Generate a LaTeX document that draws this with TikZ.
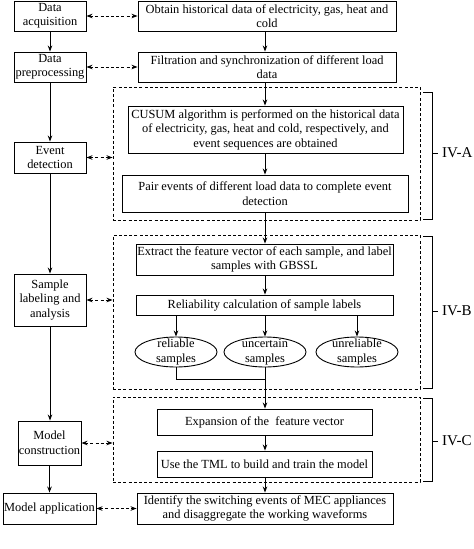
\documentclass[tikz,border=0pt]{standalone}
\usepackage{fontspec}
\setmainfont{Liberation Serif}
\usetikzlibrary{arrows.meta,shapes.geometric}
\tikzset{
  box/.style={draw,line width=0.9pt,inner sep=0pt,align=center,font=\fontsize{12.4}{14.5}\selectfont},
  frm/.style={draw,line width=0.9pt,dash pattern=on 3pt off 2.2pt,inner sep=0pt},
  elp/.style={draw,line width=0.9pt,ellipse,inner sep=0pt,minimum width=82pt,minimum height=30pt},
  txt/.style={inner sep=0pt,align=center,font=\fontsize{12.4}{14.5}\selectfont},
  arr/.style={line width=0.9pt,-{Stealth[length=6pt,width=4.5pt]}},
  darr/.style={line width=0.9pt,dash pattern=on 3pt off 2.2pt,{Stealth[length=6pt,width=4.5pt]}-{Stealth[length=6pt,width=4.5pt]}},
  brk/.style={line width=0.9pt},
  lbl/.style={inner sep=0pt,anchor=west,font=\fontsize{15}{17}\selectfont}
}
\begin{document}
\begin{tikzpicture}[x=1pt,y=-1pt]
\useasboundingbox (0,0) rectangle (474,549);
% left column
\node[box,minimum width=72pt,minimum height=30pt] (da) at (50,16) {Data\\acquisition};
\node[box,minimum width=72pt,minimum height=30pt] (dp) at (50,67) {Data\\preprocessing};
\node[box,minimum width=72pt,minimum height=31pt] (ed) at (50,157.5) {Event\\detection};
\node[box,minimum width=72pt,minimum height=52pt] (sl) at (50,300) {Sample\\labeling and\\analysis};
\node[box,minimum width=63pt,minimum height=44pt] (mc) at (49.5,443) {Model\\construction};
\node[box,minimum width=93pt,minimum height=31pt] (ma) at (49.5,508.5) {Model application};
% frames
\node[frm,minimum width=307pt,minimum height=133pt] (fA) at (266.5,153.5) {};
\node[frm,minimum width=307pt,minimum height=154pt] (fB) at (266.5,312) {};
\node[frm,minimum width=307pt,minimum height=85pt] (fC) at (266.5,439.5) {};
% right column
\coordinate (sp) at (265,0);
\node[box,minimum width=258pt,minimum height=30pt] (ob) at (267,16) {Obtain historical data of electricity, gas, heat and\\cold};
\node[box,minimum width=258pt,minimum height=30pt] (fs) at (267,67) {Filtration and synchronization of different load\\data};
\node[box,minimum width=275pt,minimum height=47pt] (cu) at (265.5,129.5) {CUSUM algorithm is performed on the historical data\\of electricity, gas, heat and cold, respectively, and\\event sequences are obtained};
\node[box,minimum width=286pt,minimum height=37pt] (pe) at (265,193.5) {Pair events of different load data to complete event\\detection};
\node[box,minimum width=257pt,minimum height=31pt] (ex) at (264.5,259.5) {Extract the feature vector of each sample, and label\\samples with GBSSL};
\node[box,minimum width=257pt,minimum height=20pt] (rc) at (264.5,305) {Reliability calculation of sample labels};
\node[elp] (e1) at (176,352) {};
\node[elp] (e2) at (265,352) {};
\node[elp] (e3) at (357,352) {};
\node[txt] (t1) at (176,352) {reliable\\samples};
\node[txt] (t2) at (265,352) {uncertain\\samples};
\node[txt] (t3) at (357,352) {unreliable\\samples};
\node[box,minimum width=215pt,minimum height=26pt] (xp) at (264.5,422) {Expansion of the\ \ feature vector};
\node[box,minimum width=215pt,minimum height=26pt] (tm) at (264.5,464) {Use the TML to build and train the model};
\node[box,minimum width=256pt,minimum height=31pt] (id) at (265,508.5) {Identify the switching events of MEC appliances\\and disaggregate the working waveforms};
% left arrows
\draw[arr] (da.south) -- (dp.north);
\draw[arr] (dp.south) -- (ed.north);
\draw[arr] (ed.south) -- (sl.north);
\draw[arr] (sl.south) -- (sl.south |- mc.north);
\draw[arr] (mc.south) -- (mc.south |- ma.north);
% dashed links
\draw[darr] (da.east) -- (ob.west);
\draw[darr] (dp.east) -- (fs.west);
\draw[darr] (ed.east) -- (ed.east -| fA.west);
\draw[darr] (sl.east) -- (sl.east -| fB.west);
\draw[darr] (mc.east) -- (mc.east -| fC.west);
\draw[darr] (ma.east) -- (id.west);
% right arrows
\draw[arr] (sp |- ob.south) -- (sp |- fs.north);
\draw[arr] (sp |- fs.south) -- (sp |- cu.north);
\draw[arr] (sp |- cu.south) -- (sp |- pe.north);
\draw[arr] (sp |- pe.south) -- (sp |- ex.north);
\draw[arr] (sp |- ex.south) -- (sp |- rc.north);
\draw[arr] (e1 |- rc.south) -- (e1.north);
\draw[arr] (sp |- rc.south) -- (e2.north);
\draw[arr] (e3 |- rc.south) -- (e3.north);
\coordinate (j) at (265,379);
\draw[line width=0.9pt] (e1.south) |- (j);
\draw[arr] (e2.south) -- (sp |- xp.north);
\draw[arr] (sp |- xp.south) -- (sp |- tm.north);
\draw[arr] (sp |- tm.south) -- (sp |- id.north);
% brackets
\draw[brk] (423,92) -- (432,92) -- (432,219) -- (423,219);
\draw[brk] (432,153) -- (438,153);
\node[lbl] (la) at (442,153) {IV-A};
\draw[brk] (423,236) -- (432,236) -- (432,388) -- (423,388);
\draw[brk] (432,311) -- (438,311);
\node[lbl] (lb) at (442,311) {IV-B};
\draw[brk] (423,398) -- (432,398) -- (432,481) -- (423,481);
\draw[brk] (432,441) -- (438,441);
\node[lbl] (lc) at (442,441) {IV-C};
\end{tikzpicture}
\end{document}
